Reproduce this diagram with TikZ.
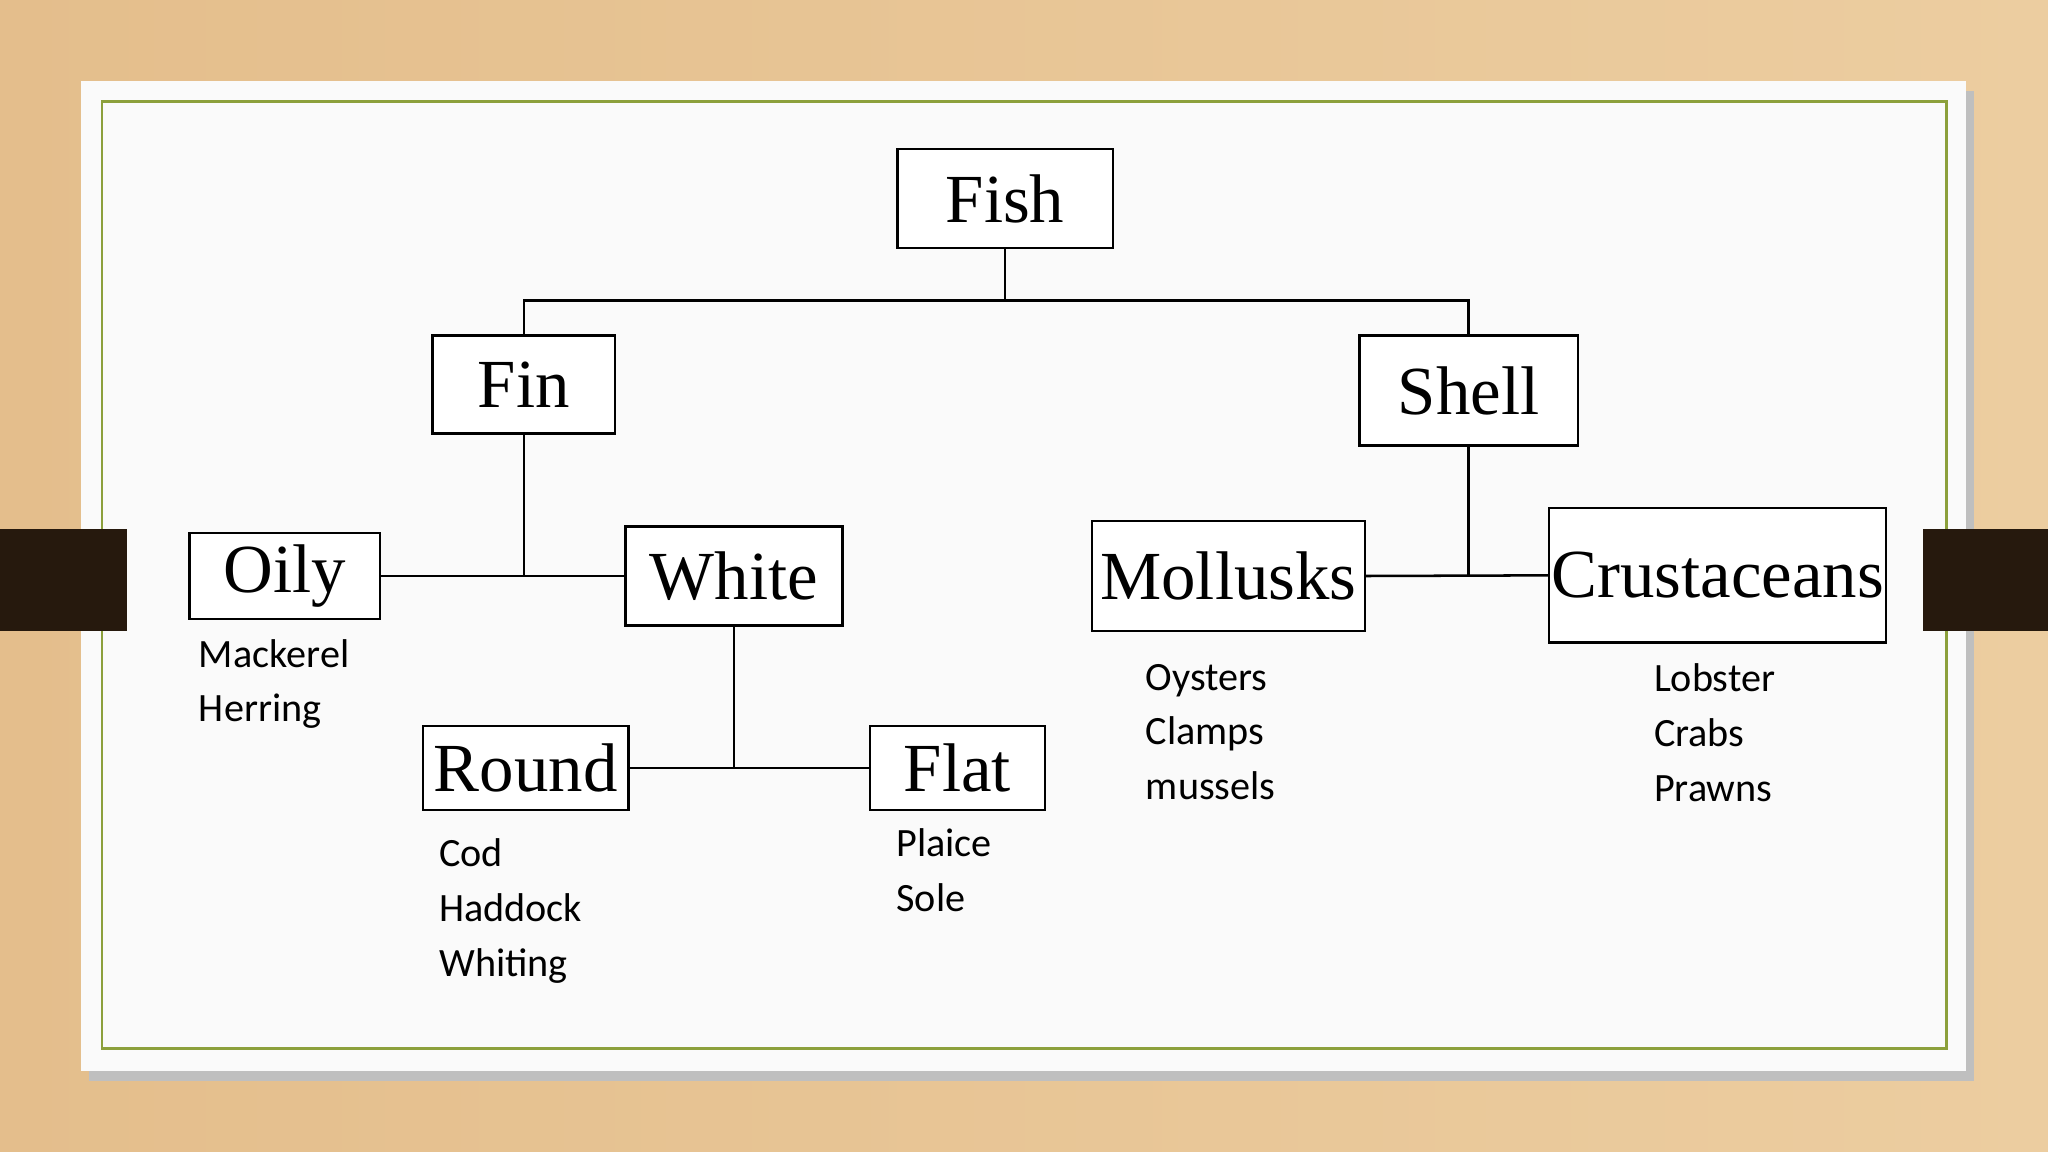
\documentclass[tikz,border=0pt]{standalone}
\usepackage{fontspec}
\setmainfont{Liberation Serif}
\newfontfamily\listfont{Carlito}
\definecolor{woodA}{RGB}{236,205,160}
\definecolor{woodB}{RGB}{228,190,140}
\begin{document}
\begin{tikzpicture}[x=0.02cm,y=-0.02cm,
  box/.style={draw,line width=1.1pt,fill=white,inner sep=0pt,font=\fontsize{30}{32}\selectfont},
  lst/.style={anchor=north west,align=left,inner sep=0pt,font=\listfont\fontsize{17.5}{23.8}\selectfont},
  conn/.style={line width=1.1pt}]
\useasboundingbox (0,0) rectangle (1568,882);
\shade[left color=woodB, right color=woodA] (0,0) rectangle (1568,882);
\fill[black!25] (68,70) rectangle (1511,828);
\fill[black!2] (62,62) rectangle (1505,820);
\draw[line width=1.2pt,color={rgb,255:red,140;green,160;blue,60}] (78,78) rectangle (1490,803);
\fill[black!80!brown] (0,405) rectangle (97,483);
\fill[black!80!brown] (1472,405) rectangle (1568,483);
\node[box,minimum width=165*0.02cm,minimum height=76*0.02cm] (fish) at (769.5,152) {Fish};
\node[box,minimum width=140*0.02cm,minimum height=75*0.02cm] (fin) at (401,294.5) {Fin};
\node[box,minimum width=167*0.02cm,minimum height=84*0.02cm] (shell) at (1124.5,299) {Shell};
\node[box,minimum width=146*0.02cm,minimum height=66*0.02cm] (oily) at (218,441) {Oily};
\node[box,minimum width=166*0.02cm,minimum height=76*0.02cm] (white) at (562,441) {White};
\node[box,minimum width=209*0.02cm,minimum height=84*0.02cm] (moll) at (940.5,441) {Mollusks};
\node[box,minimum width=258*0.02cm,minimum height=103*0.02cm] (crus) at (1315,440.5) {Crustaceans};
\node[box,minimum width=157*0.02cm,minimum height=64*0.02cm] (round) at (402.5,588) {Round};
\node[box,minimum width=134*0.02cm,minimum height=64*0.02cm] (flat) at (733,588) {Flat};
\coordinate (j1) at (769.5,230);
\coordinate (j2) at (401,441);
\coordinate (j3) at (1124.5,441);
\coordinate (j4) at (562,588);
\draw[conn] (fish.south) -- (j1);
\draw[conn] (j1) -| (fin.north);
\draw[conn] (j1) -| (shell.north);
\draw[conn] (fin.south) -- (j2);
\draw[conn] (oily.east) -- (white.west);
\draw[conn] (shell.south) -- (j3);
\draw[conn] (moll.east) -- (crus.west);
\draw[conn] (white.south) -- (j4);
\draw[conn] (round.east) -- (flat.west);
\node[lst] (l1) at (152,489) {Mackerel\\Herring};
\node[lst] (l2) at (336,642) {Cod\\Haddock\\Whiting};
\node[lst] (l3) at (686,634) {Plaice\\Sole};
\node[lst] (l4) at (877,508) {Oysters\\Clamps\\mussels};
\node[lst] (l5) at (1266,508) {Lobster\\Crabs\\Prawns};
\end{tikzpicture}
\end{document}
